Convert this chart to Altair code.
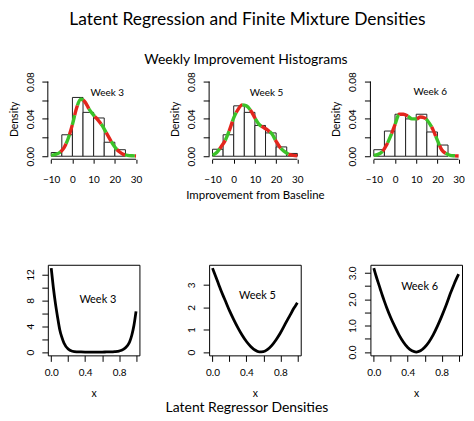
import altair as alt
import pandas as pd

FONT = "Lato"

main_title = "Latent Regression and Finite Mixture Densities"
top_title = "Weekly Improvement Histograms"
bottom_title = "Latent Regressor Densities"
top_xtitle = "Improvement from Baseline"
top_ytitle = "Density"
bottom_xtitle = "x"
week_names = ["Week 3", "Week 5", "Week 6"]

# ---- histograms (density scale) ----
w3_bin_start = [-10, -5, 0, 5, 10, 15, 20]
w3_bin_end = [-5, 0, 5, 10, 15, 20, 25]
w3_density = [0.004, 0.023, 0.063, 0.047, 0.041, 0.015, 0.007]

w5_bin_start = [-10, -5, 0, 5, 10, 15, 20, 25]
w5_bin_end = [-5, 0, 5, 10, 15, 20, 25, 30]
w5_density = [0.0075, 0.023, 0.054, 0.047, 0.033, 0.025, 0.010, 0.003]

w6_bin_start = [-10, -5, 0, 5, 10, 15, 20]
w6_bin_end = [-5, 0, 5, 10, 15, 20, 25]
w6_density = [0.007, 0.027, 0.045, 0.040, 0.045, 0.026, 0.012]

# ---- fitted mixture densities over the histograms ----
mix_x = [-10, -8, -6, -4, -2, 0, 2, 4, 6, 8, 10, 12, 14, 16, 18, 20, 22, 24, 26, 28, 30]
w3_mix = [0.001, 0.002, 0.004, 0.009, 0.019, 0.034, 0.052, 0.061, 0.058, 0.050, 0.044,
          0.039, 0.033, 0.025, 0.017, 0.010, 0.005, 0.002, 0.001, 0.0005, 0.0003]
w5_mix = [0.001, 0.004, 0.010, 0.017, 0.028, 0.041, 0.050, 0.055, 0.054, 0.049, 0.041,
          0.034, 0.031, 0.028, 0.024, 0.016, 0.009, 0.005, 0.002, 0.001, 0.0005]
w6_mix = [0.001, 0.002, 0.005, 0.012, 0.022, 0.034, 0.045, 0.045, 0.043, 0.040, 0.040,
          0.042, 0.041, 0.036, 0.028, 0.017, 0.007, 0.003, 0.001, 0.0005, 0.0003]

# ---- latent regressor densities ----
lat_x = [0, 0.025, 0.05, 0.075, 0.1, 0.125, 0.15, 0.2, 0.25, 0.3, 0.35, 0.4, 0.45, 0.5,
         0.55, 0.6, 0.65, 0.7, 0.75, 0.8, 0.85, 0.875, 0.9, 0.925, 0.95, 0.975, 1.0]
w3_lat = [13.0, 10.0, 7.5, 5.4, 3.5, 2.3, 1.4, 0.45, 0.12, 0.03, 0.01, 0.0, 0.0, 0.0,
          0.0, 0.0, 0.01, 0.02, 0.06, 0.15, 0.4, 0.65, 1.0, 1.6, 2.6, 4.1, 6.3]
w5_lat = [3.75, 3.5, 3.25, 3.0, 2.75, 2.52, 2.3, 1.85, 1.45, 1.08, 0.75, 0.47, 0.25, 0.09,
          0.01, 0.02, 0.12, 0.3, 0.55, 0.85, 1.2, 1.38, 1.55, 1.72, 1.9, 2.05, 2.2]
w6_lat = [3.18, 2.9, 2.65, 2.4, 2.15, 1.92, 1.7, 1.3, 0.95, 0.63, 0.37, 0.17, 0.05, 0.0,
          0.05, 0.18, 0.38, 0.65, 0.98, 1.35, 1.75, 1.97, 2.2, 2.4, 2.6, 2.78, 2.95]

RED = "#e3261d"
GREEN = "#3cc229"

axis_common = dict(
    grid=False, domain=False, labelFont=FONT, titleFont=FONT, labelColor="black",
    titleColor="black", tickColor="black", labelOverlap=False, labelFlush=False,
    labelBound=False, titleFontWeight="normal",
)

PW = 92


def hist_panel(name, starts, ends, dens, mix, label_pos, xtitle, title=None):
    bars_df = pd.DataFrame({"a": starts, "b": ends, "v": dens, "v0": [0] * len(dens)})
    mix_df = pd.DataFrame({"a": mix_x, "v": mix})
    lab_df = pd.DataFrame({"a": [label_pos[0]], "v": [label_pos[1]], "t": [name]})
    xl_df = pd.DataFrame({"a": [-10], "b": [30], "v": [-0.0032]})
    yl_df = pd.DataFrame({"a": [-11.6], "v": [0], "v2": [0.08]})

    xs = alt.Scale(domain=[-11.6, 31.6], nice=False, zero=False)
    ys = alt.Scale(domain=[-0.0032, 0.0832], nice=False, zero=False)
    xax = alt.Axis(values=[-10, 0, 10, 20, 30],
                   labelExpr="format(datum.value, 'd')", tickSize=4, labelPadding=11.7,
                   labelFontSize=10, titleFontSize=11.5, titlePadding=4.3, **axis_common)
    yax = alt.Axis(values=[0, 0.02, 0.04, 0.06, 0.08],
                   labelExpr="round(datum.value*100) % 4 == 0 ? format(datum.value, '.2f') : ''",
                   tickSize=6, labelPadding=6.6, labelAngle=270, labelAlign="center",
                   labelBaseline="bottom", labelFontSize=10, titleFontSize=10.5,
                   titlePadding=6, **axis_common)
    X = alt.X("a:Q", scale=xs, axis=xax, title=xtitle)
    Y = alt.Y("v:Q", scale=ys, axis=yax, title=top_ytitle)

    bars = alt.Chart(bars_df).mark_rect(fill="white", stroke="#222222", strokeWidth=1).encode(
        x=X, x2="b:Q", y=Y, y2="v0:Q")
    green = alt.Chart(mix_df).mark_line(
        color=GREEN, strokeWidth=3.4, strokeDash=[10, 10], interpolate="monotone"
    ).encode(x=X, y=Y)
    red = alt.Chart(mix_df).mark_line(
        color=RED, strokeWidth=3.4, strokeDash=[10, 10], strokeDashOffset=10,
        interpolate="monotone"
    ).encode(x=X, y=Y)
    txt = alt.Chart(lab_df).mark_text(font=FONT, fontSize=10, color="black").encode(
        x=X, y=Y, text="t:N")
    xline = alt.Chart(xl_df).mark_rule(color="black", strokeWidth=1).encode(
        x=X, x2="b:Q", y=Y)
    yline = alt.Chart(yl_df).mark_rule(color="black", strokeWidth=1).encode(
        x=X, y=Y, y2="v2:Q")
    props = dict(width=PW, height=81, view=alt.ViewBackground(stroke="transparent"))
    if title:
        props["title"] = alt.TitleParams(title, font=FONT, fontSize=14, fontWeight="normal",
                                         color="black", offset=5, dx=-9)
    return alt.layer(bars, green, red, txt, xline, yline).properties(**props)


def latent_panel(name, vals, ydomain, yvalues, ylabel_expr, label_pos, title=None):
    df = pd.DataFrame({"a": lat_x, "v": vals})
    lab_df = pd.DataFrame({"a": [label_pos[0]], "v": [label_pos[1]], "t": [name]})
    xs = alt.Scale(domain=[-0.04, 1.04], nice=False, zero=False)
    ys = alt.Scale(domain=ydomain, nice=False, zero=False)
    xax = alt.Axis(values=[0, 0.2, 0.4, 0.6, 0.8, 1.0],
                   labelExpr="round(datum.value*10) % 4 == 0 ? format(datum.value, '.1f') : ''",
                   tickSize=6, labelPadding=6.7, labelFontSize=10, titleFontSize=10.5,
                   titlePadding=10.7, **axis_common)
    yax = alt.Axis(values=yvalues, labelExpr=ylabel_expr, tickSize=6, labelPadding=6.6,
                   labelAngle=270, labelAlign="center", labelBaseline="bottom",
                   labelFontSize=10, **axis_common)
    X = alt.X("a:Q", scale=xs, axis=xax, title=bottom_xtitle)
    Y = alt.Y("v:Q", scale=ys, axis=yax, title=None)
    line = alt.Chart(df).mark_line(color="black", strokeWidth=2.8, interpolate="monotone").encode(
        x=X, y=Y)
    txt = alt.Chart(lab_df).mark_text(font=FONT, fontSize=11, color="black").encode(
        x=X, y=Y, text="t:N")
    props = dict(width=PW, height=91,
                 view=alt.ViewBackground(stroke="black", strokeWidth=1))
    if title:
        props["title"] = alt.TitleParams(title, font=FONT, fontSize=14, fontWeight="normal",
                                         color="black", orient="bottom", offset=2, dx=-8)
    return alt.layer(line, txt).properties(**props)


p1 = hist_panel(week_names[0], w3_bin_start, w3_bin_end, w3_density, w3_mix, (16.4, 0.068), None)
p2 = hist_panel(week_names[1], w5_bin_start, w5_bin_end, w5_density, w5_mix, (15.5, 0.068),
                top_xtitle, title=top_title)
p3 = hist_panel(week_names[2], w6_bin_start, w6_bin_end, w6_density, w6_mix, (16.6, 0.069), None)

q1 = latent_panel(week_names[0], w3_lat, [-0.52, 13.52], [0, 2, 4, 6, 8, 10, 12],
                  "datum.value % 4 == 0 ? format(datum.value, 'd') : ''", (0.55, 8.0))
q2 = latent_panel(week_names[1], w5_lat, [-0.15, 3.9], [0, 1, 2, 3],
                  "format(datum.value, 'd')", (0.53, 2.5), title=bottom_title)
q3 = latent_panel(week_names[2], w6_lat, [-0.127, 3.307], [0, 0.5, 1, 1.5, 2, 2.5, 3],
                  "round(datum.value*2) % 2 == 0 ? format(datum.value, '.1f') : ''", (0.54, 2.48))

chart = alt.concat(
    p1, p2, p3, q1, q2, q3, columns=3, bounds="flush",
    spacing={"row": 106, "column": 70},
    title=alt.TitleParams(main_title, font=FONT, fontSize=17.5, fontWeight="normal",
                          color="black", anchor="middle", offset=23.5, dx=10),
).properties(padding={"top": 2, "left": 0, "right": 0, "bottom": 0}).configure(
    background="white", axis=alt.AxisConfig(labelOverlap=False)
)

chart.save("out.html", embed_options={"renderer": "svg", "actions": False})
